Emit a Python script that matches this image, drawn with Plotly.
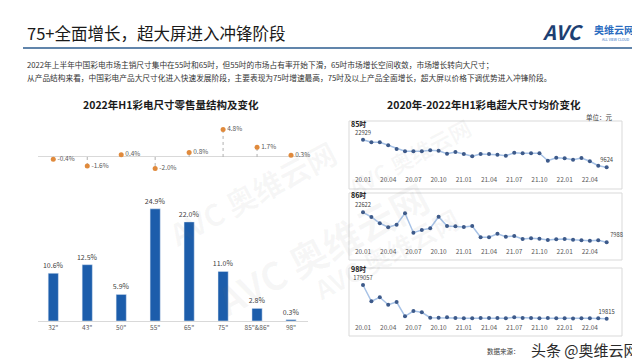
import plotly.graph_objects as go

FONT = "Noto Sans CJK SC"

# ---------------- data ----------------
size_labels = ['32"', '43"', '50"', '55"', '65"', '75"', '85"&86"', '98"']
share_2022h1 = [10.6, 12.5, 5.9, 24.9, 22.0, 11.0, 2.8, 0.3]
share_change = [-0.4, -1.6, 0.4, -2.0, 0.8, 4.8, 1.7, 0.3]

months = ["20.01", "20.02", "20.03", "20.04", "20.05", "20.06", "20.07", "20.08", "20.09", "20.10",
          "20.11", "20.12", "21.01", "21.02", "21.03", "21.04", "21.05", "21.06", "21.07", "21.08",
          "21.09", "21.10", "21.11", "21.12", "22.01", "22.02", "22.03", "22.04", "22.05", "22.06"]
tick_months = ["20.01", "20.04", "20.07", "20.10", "21.01", "21.04", "21.07", "21.10", "22.01", "22.04"]

price_85 = [22929, 21676, 21676, 20230, 18446, 17338, 17338, 17338, 17820, 17627,
            16181, 17000, 16036, 14928, 16036, 16036, 15700, 15217, 16663, 16374,
            16374, 16374, 12807, 14253, 13964, 13289, 14108, 12518, 10397, 9624]
price_86 = [22622, 20329, 17256, 15305, 16573, 22134, 12671, 13988, 14817, 20476,
            15939, 15793, 15451, 15939, 10427, 10427, 12183, 10720, 11061, 9598,
            9939, 9744, 9110, 9451, 9598, 9256, 8964, 8768, 8964, 7988]
price_98 = [179057, 102039, 120940, 85975, 98732, 31165, 56207, 50065, 24550, 24550,
            26440, 23132, 21717, 21717, 23132, 23132, 23100, 21700, 26500, 23100,
            23100, 21700, 23100, 21700, 21700, 20500, 21700, 21700, 21700, 19815]

title = "75+全面增长，超大屏进入冲锋阶段"
desc1 = "2022年上半年中国彩电市场主销尺寸集中在55吋和65吋，但55吋的市场占有率开始下滑，65吋市场增长空间收敛，市场增长转向大尺寸；"
desc2 = "从产品结构来看，中国彩电产品大尺寸化进入快速发展阶段，主要表现为75吋增速最高，75吋及以上产品全面增长，超大屏以价格下调优势进入冲锋阶段。"
left_title = "2022年H1彩电尺寸零售量结构及变化"
right_title = "2020年-2022年H1彩电超大尺寸均价变化"
panel_names = ["85吋", "86吋", "98吋"]

# ---------------- helpers ----------------
W, H = 640, 360
def px(x):
    return x / W
def py(y):
    return 1 - y / H

idx = list(range(len(size_labels)))
midx = list(range(len(months)))
tick_idx = [months.index(m) for m in tick_months]

fig = go.Figure()

# --- dot (change) chart ---
drop_x, drop_y = [], []
for i, v in zip(idx, share_change):
    drop_x += [i, i, None]
    drop_y += [0, v, None]
fig.add_trace(go.Scatter(x=drop_x, y=drop_y, mode="lines",
                         line=dict(color="#b0b0b0", width=1, dash="dot"),
                         xaxis="x", yaxis="y", hoverinfo="skip", showlegend=False))
fig.add_trace(go.Scatter(x=idx, y=share_change, mode="markers+text",
                         marker=dict(color="#e08a3c", size=5),
                         text=[f"{v:.1f}%" for v in share_change],
                         textposition="middle right",
                         textfont=dict(size=6.5, color="#595959", family=FONT),
                         xaxis="x", yaxis="y", showlegend=False, cliponaxis=False))

# --- bar chart ---
fig.add_trace(go.Bar(x=idx, y=share_2022h1, width=0.3,
                     marker=dict(color="#1c5dab"),
                     text=[f"{v:.1f}%" for v in share_2022h1],
                     textposition="outside", constraintext="none", textangle=0,
                     textfont=dict(size=7, color="#404040", family=FONT),
                     xaxis="x2", yaxis="y2", showlegend=False, cliponaxis=False))

# --- price line panels ---
series = [price_85, price_86, price_98]
for k, s in enumerate(series):
    n = k + 3
    labels = [""] * len(s)
    labels[0] = str(s[0])
    labels[-1] = str(s[-1])
    pos = ["top center"] * len(s)
    if k == 1:
        pos[-1] = "top right"
    fig.add_trace(go.Scatter(x=midx, y=s, mode="lines+markers+text",
                             line=dict(color="#a7c2e6", width=1.5),
                             marker=dict(color="#3d5a8a", size=4),
                             text=labels, textposition=pos,
                             textfont=dict(size=5.8, color="#404040", family=FONT),
                             xaxis=f"x{n}", yaxis=f"y{n}", showlegend=False, cliponaxis=False))

# ---------------- layout / axes ----------------
cat_range = [-0.45, 7.5]
layout = dict(
    width=W, height=H, margin=dict(l=0, r=0, t=0, b=0),
    paper_bgcolor="white", plot_bgcolor="rgba(0,0,0,0)",
    font=dict(family=FONT, color="#333333"),
    showlegend=False,
    xaxis=dict(domain=[px(30), px(300)], range=cat_range, showgrid=False, zeroline=False,
               showticklabels=False, fixedrange=True),
    yaxis=dict(domain=[py(165), py(115)], range=[-2.81, 5.96], showgrid=False,
               zeroline=True, zerolinecolor="#d9d9d9", zerolinewidth=1,
               showticklabels=False, fixedrange=True),
    xaxis2=dict(domain=[px(30), px(300)], range=cat_range, showgrid=False, zeroline=False,
                showline=True, linecolor="#d9d9d9", linewidth=1,
                tickmode="array", tickvals=idx, ticktext=size_labels, ticks="",
                tickfont=dict(size=6.5, color="#595959", family=FONT), fixedrange=True),
    yaxis2=dict(domain=[py(313), py(190)], range=[0, 27.3], showgrid=False, zeroline=False,
                showticklabels=False, fixedrange=True),
)
panel_dom = [(166, 120, [6395, 28568]), (238, 192, [6183, 28622]), (314, 268, [4223, 221582])]
for k, (b, t, rng) in enumerate(panel_dom):
    n = k + 3
    layout[f"xaxis{n}"] = dict(domain=[px(345), px(610)], range=[-1.19, 30.35],
                               showgrid=False, zeroline=False, showline=False,
                               tickmode="array", tickvals=tick_idx, ticktext=tick_months,
                               ticks="", tickfont=dict(size=6.5, color="#595959", family=FONT),
                               anchor=f"y{n}", fixedrange=True)
    layout[f"yaxis{n}"] = dict(domain=[py(b), py(t)], range=rng, showgrid=False,
                               zeroline=False, showticklabels=False, anchor=f"x{n}",
                               fixedrange=True)
layout["xaxis2"]["anchor"] = "y2"
layout["yaxis2"]["anchor"] = "x2"

shapes = []
# title underline
shapes.append(dict(type="line", xref="paper", yref="paper", x0=px(15), x1=px(627),
                   y0=py(40), y1=py(40), line=dict(color="#2c5d8f", width=1.5)))
# panel boxes
for (t, b) in [(113, 181), (185, 252), (260, 328)]:
    shapes.append(dict(type="rect", xref="paper", yref="paper", x0=px(341), x1=px(614),
                       y0=py(b), y1=py(t), line=dict(color="#d9d9d9", width=1),
                       fillcolor="rgba(0,0,0,0)", layer="below"))
layout["shapes"] = shapes

ann = []
def add_text(x, y, text, size, color="#333333", anchor="left", bold=False, **kw):
    if bold:
        text = f"<b>{text}</b>"
    ann.append(dict(x=px(x), y=py(y), xref="paper", yref="paper", text=text,
                    showarrow=False, xanchor=anchor, yanchor="middle", borderpad=0,
                    font=dict(size=size, color=color, family=FONT), **kw))

# faint watermarks
for (x, y, s) in [(195, 240, 38), (150, 120, 30), (460, 302, 26), (470, 100, 22)]:
    ann.append(dict(x=px(x), y=py(y), xref="paper", yref="paper", text="<b>AVC 奥维云网</b>",
                    showarrow=False, textangle=-28,
                    font=dict(size=s, color="rgba(120,120,120,0.06)", family=FONT)))

add_text(18, 25, title, 16.5, "#1a1a1a")
add_text(533, 24, "<b><i>AVC</i></b>", 20, "#1d3f73")
add_text(585, 21, "<b>奥维云网</b>", 10, "#2a6cc0")
add_text(593, 31, "ALL VIEW CLOUD", 3.5, "#2a6cc0")
add_text(18, 56, desc1, 7.7, "#333333")
add_text(18, 69, desc2, 7.7, "#333333")
add_text(163, 97, left_title, 10.5, "#1a1a1a", anchor="center", bold=True)
add_text(476, 97, right_title, 10.5, "#1a1a1a", anchor="center", bold=True)
add_text(606, 109, "单位：元", 6.5, "#404040", anchor="right")
for name, y in zip(panel_names, [116, 187, 261]):
    add_text(342, y, name, 7, "#111111", bold=True)
add_text(478, 343, "数据来源：", 6.5, "#404040")
add_text(522, 341, "头条 @奥维云网", 15, "#2a2a2a")
layout["annotations"] = ann

fig.update_layout(**layout)
fig.write_html("out.html")
